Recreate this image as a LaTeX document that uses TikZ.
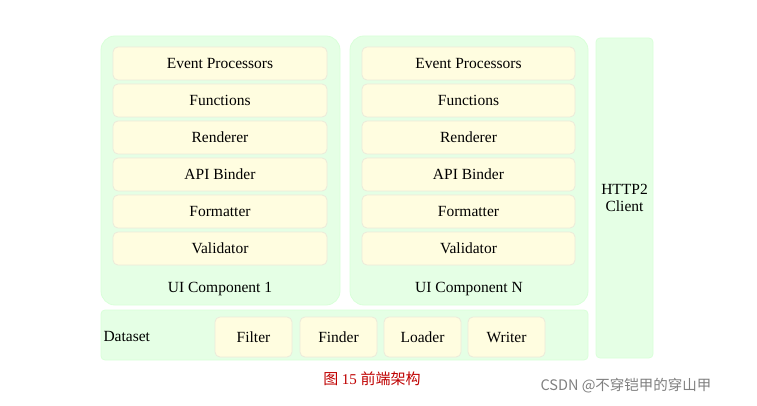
\documentclass[tikz,border=0pt]{standalone}
\usepackage{fontspec}
\setmainfont{Liberation Serif}
\newfontfamily\cjk{Noto Sans CJK SC}
\begin{document}
\begin{tikzpicture}[x=1pt,y=-1pt,
 outer/.style={draw=green!15!white,fill=green!10!white,rounded corners=14pt,line width=0.8pt},
 flat/.style={draw=green!15!white,fill=green!10!white,rounded corners=4pt,line width=0.8pt},
 inner/.style={draw=yellow!30!gray!25,fill=yellow!12!white,rounded corners=5pt,line width=0.8pt,font=\fontsize{15.5}{16}\selectfont}]
\useasboundingbox (0,0) rectangle (757,406);
\fill[white] (0,0) rectangle (757,406);
\draw[outer] (101,36) rectangle (340,305);
\draw[outer] (350,36) rectangle (588,305);
\draw[flat] (596,38) rectangle (653,358);
\draw[flat] (101,310) rectangle (588,360);
\node[font=\fontsize{15.5}{17}\selectfont,align=center] (http) at (624.5,198) {HTTP2\\Client};
\node[font=\fontsize{15.5}{16}\selectfont] (ui1) at (220,289) {UI Component 1};
\node[font=\fontsize{15.5}{16}\selectfont] (uin) at (469,289) {UI Component N};
\node[font=\fontsize{15.5}{16}\selectfont,anchor=west] (ds) at (100,336) {Dataset};
\foreach \t [count=\i] in {Event Processors,Functions,Renderer,API Binder,Formatter,Validator}{
  \pgfmathsetmacro\ya{47+37*(\i-1)}
  \draw[inner] (113,\ya) rectangle node (l\i) {\t} (327,\ya+33);
  \draw[inner] (362,\ya) rectangle node (r\i) {\t} (575,\ya+33);
}
\foreach \t/\x [count=\i] in {Filter/215,Finder/300,Loader/384,Writer/468}{
  \draw[inner] (\x,317) rectangle node (d\i) {\t} (\x+77,357);
}
\node[text=red!75!black,font=\fontsize{15}{16}\selectfont] (cap) at (372,379) {\cjk 图 \rmfamily 15 \cjk 前端架构};
\node[text=gray,font=\cjk\fontsize{14.5}{15}\selectfont] (wm) at (626,386) {CSDN @不穿铠甲的穿山甲};
\end{tikzpicture}
\end{document}
